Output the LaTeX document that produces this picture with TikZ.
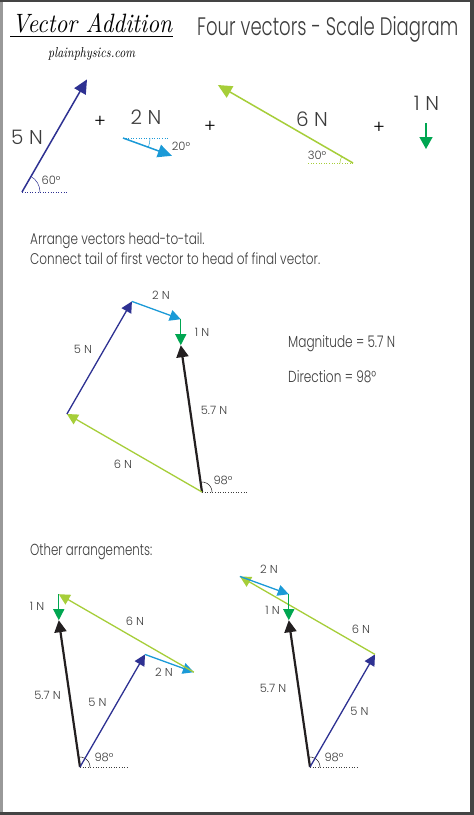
\documentclass[tikz,border=0pt]{standalone}
\usepackage{fontspec}
\usepackage{graphicx}
\newfontfamily\thin{Poppins}[UprightFont={* Light}]
\usetikzlibrary{arrows.meta}
\definecolor{navy}{HTML}{2E3192}
\definecolor{skyb}{HTML}{1B9AD7}
\definecolor{lime}{HTML}{A6CE39}
\definecolor{grn}{HTML}{00A651}
\definecolor{blk}{HTML}{231F20}
\definecolor{txt}{HTML}{3C3C3C}
\definecolor{frame}{HTML}{444444}
\definecolor{lframe}{HTML}{999999}
\newcommand{\fitx}[3]{\resizebox{#1pt}{\height}{\thin\fontsize{#2}{#2}\selectfont #3}}
\begin{document}
\begin{tikzpicture}[x=1pt,y=-1pt,
  vec/.style={line width=1.3pt,-{Triangle[length=11pt,width=11pt]}},
  bigvec/.style={line width=1.5pt,-{Triangle[length=14pt,width=13pt]}},
  res/.style={line width=2.2pt,blk,-{Triangle[length=12pt,width=12pt]}},
  lbl/.style={text=txt,font=\thin\fontsize{11.5}{11.5}\selectfont,inner sep=0pt},
  biglbl/.style={text=txt,font=\thin\fontsize{20}{20}\selectfont,inner sep=0pt},
  plus/.style={text=black,font=\thin\fontsize{18}{18}\selectfont,inner sep=0pt},
  para/.style={text=txt,inner sep=0pt,anchor=base west},
  dots/.style={dotted,line width=0.6pt},
  anglearc/.style={line width=0.5pt}]
\useasboundingbox (0,0) rectangle (474,815);
\fill[frame] (0,0) rectangle (474,815);
\fill[lframe] (0,2) rectangle (3,812);
\fill[white] (3,2) rectangle (470,812);

% title
\node[para,text=black] (title) at (12,32) {\resizebox{160pt}{19pt}{\itshape Vector Addition}};
\coordinate (ulA) at (10,36);
\coordinate (ulB) at (173,36);
\draw[line width=0.9pt,black] (ulA) -- (ulB);
\node[para,text=black] (site) at (48,57) {\resizebox{87pt}{10pt}{\itshape plainphysics.com}};
\node[para] (head) at (197,35) {\resizebox{261pt}{19pt}{\thin Four vectors - Scale Diagram}};

% ---- top: the four vectors
\coordinate (A1) at (22,192);
\path (A1) ++(-60:130) coordinate (A2);
\draw[navy,dots] (A1) -- ++(46,0) coordinate (A3);
\draw[navy,anglearc] ([shift={(0:18)}]A1) arc[start angle=0,end angle=-60,radius=18];
\draw[bigvec,navy] (A1) -- (A2);
\node[biglbl] (l5) at (27,137) {5 N};
\node[lbl] (d60) at (51,180.5) {60°};

\node[plus] (p1) at (100,122) {+};

\coordinate (B1) at (123,138);
\path (B1) ++(20:52) coordinate (B2);
\draw[skyb,dots] (B1) -- ++(46,0) coordinate (B3);
\draw[skyb,anglearc] ([shift={(0:27)}]B1) arc[start angle=0,end angle=20,radius=27];
\draw[bigvec,skyb] (B1) -- (B2);
\node[biglbl] (l2) at (146,117.5) {2 N};
\node[lbl] (d20) at (181,146.5) {20°};

\node[plus] (p2) at (210,127) {+};

\coordinate (C1) at (353,163);
\path (C1) ++(-150:156) coordinate (C2);
\draw[lime,dots] (C1) -- ++(-45,0) coordinate (C3);
\draw[lime,anglearc] ([shift={(180:13)}]C1) arc[start angle=-180,end angle=-150,radius=13];
\draw[bigvec,lime] (C1) -- (C2);
\node[biglbl] (l6) at (312,119.5) {6 N};
\node[lbl] (d30) at (317,155) {30°};

\node[plus] (p3) at (379,128) {+};

\coordinate (D1) at (426,123);
\path (D1) ++(90:26) coordinate (D2);
\draw[line width=1.5pt,grn,-{Triangle[length=12pt,width=13pt]}] (D1) -- (D2);
\node[biglbl] (l1) at (426.5,103) {1 N};

% ---- instructions
\node[para] (ins) at (30,244) {\resizebox{290pt}{\height}{\thin\fontsize{15.5}{20}\selectfont
  \begin{tabular}[t]{@{}l@{}}Arrange vectors head-to-tail.\\Connect tail of first vector to head of final vector.\end{tabular}}};

% ---- middle diagram
\coordinate (M0) at (202,492);
\path (M0) ++(-150:156) coordinate (M1) ++(-60:130) coordinate (M2)
      ++(20:52) coordinate (M3) ++(90:26) coordinate (M4);
\draw[dots,txt] (M0) -- ++(46,0) coordinate (M5);
\draw[blk,anglearc] ([shift={(0:10)}]M0) arc[start angle=0,end angle=-98,radius=10];
\draw[res] (M0) -- (M4);
\draw[vec,lime] (M0) -- (M1);
\draw[vec,navy] (M1) -- (M2);
\draw[vec,skyb] (M2) -- (M3);
\draw[vec,grn] (M3) -- (M4);
\node[lbl] (m2) at (161,295.5) {2 N};
\node[lbl] (m1) at (202,332) {1 N};
\node[lbl] (m5) at (83,349) {5 N};
\node[lbl] (m57) at (214,410) {5.7 N};
\node[lbl] (m6) at (123,464) {6 N};
\node[lbl] (m98) at (223,480) {98°};

\node[para] (mag) at (288,347) {\fitx{107}{16}{Magnitude = 5.7 N}};
\node[para] (dir) at (288,382) {\fitx{88}{16}{Direction = 98°}};

% ---- other arrangements
\node[para] (oth) at (30,555) {\fitx{122}{16}{Other arrangements:}};

% bottom left
\coordinate (L0) at (80,767);
\path (L0) ++(-60:130) coordinate (L1) ++(20:52) coordinate (L2)
      ++(-150:156) coordinate (L3) ++(90:26) coordinate (L4);
\draw[dots,txt] (L0) -- ++(48,0) coordinate (L5);
\draw[blk,anglearc] ([shift={(0:10)}]L0) arc[start angle=0,end angle=-98,radius=10];
\draw[res] (L0) -- (L4);
\draw[vec,navy] (L0) -- (L1);
\draw[vec,skyb] (L1) -- (L2);
\draw[vec,lime] (L2) -- (L3);
\draw[vec,grn] (L3) -- (L4);
\node[lbl] (b1) at (37,606) {1 N};
\node[lbl] (b6) at (135,621.5) {6 N};
\node[lbl] (b2) at (164,672) {2 N};
\node[lbl] (b57) at (47.5,695) {5.7 N};
\node[lbl] (b5) at (97.5,702) {5 N};
\node[lbl] (b98) at (104,757) {98°};

% bottom right
\coordinate (R0) at (310,767);
\path (R0) ++(-60:130) coordinate (R1) ++(-150:156) coordinate (R2)
      ++(20:52) coordinate (R3) ++(90:26) coordinate (R4);
\draw[dots,txt] (R0) -- ++(48,0) coordinate (R5);
\draw[blk,anglearc] ([shift={(0:10)}]R0) arc[start angle=0,end angle=-98,radius=10];
\draw[res] (R0) -- (R4);
\draw[vec,navy] (R0) -- (R1);
\draw[vec,lime] (R1) -- (R2);
\draw[vec,skyb] (R2) -- (R3);
\draw[vec,grn] (R3) -- (R4);
\node[lbl] (c2) at (269,569) {2 N};
\node[lbl] (c1) at (272.5,610) {1 N};
\node[lbl] (c6) at (361,629) {6 N};
\node[lbl] (c57) at (273,688) {5.7 N};
\node[lbl] (c5) at (359.5,711) {5 N};
\node[lbl] (c98) at (334,757) {98°};
\end{tikzpicture}
\end{document}
